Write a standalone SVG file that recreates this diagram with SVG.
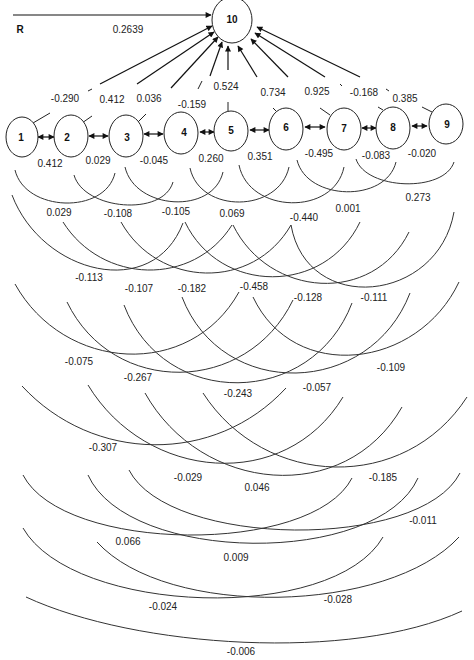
<svg xmlns="http://www.w3.org/2000/svg" width="474" height="660" viewBox="0 0 474 660">
<defs>
<marker id="ah" viewBox="0 0 10 10" refX="9" refY="5" markerWidth="7" markerHeight="6" markerUnits="userSpaceOnUse" orient="auto-start-reverse">
<path d="M0,0 L10,5 L0,10 z" fill="#111"/>
</marker>
<style>
.n{fill:#fff;stroke:#222;stroke-width:1}
.nl{font-family:"Liberation Sans",Arial,sans-serif;font-size:10px;font-weight:bold;fill:#111;text-anchor:middle}
.t{font-family:"Liberation Sans",Arial,sans-serif;font-size:10px;fill:#222;text-anchor:middle}
.l{fill:none;stroke:#222;stroke-width:1}
.a{fill:none;stroke:#333;stroke-width:1}
.ar{fill:none;stroke:#111;stroke-width:1.2;marker-end:url(#ah)}
.da{fill:none;stroke:#111;stroke-width:1.2;marker-start:url(#ah);marker-end:url(#ah)}
</style>
</defs>
<rect width="474" height="660" fill="#fff"/>

<g id="connectors">
<!-- R arrow -->
<line class="ar" x1="13" y1="15" x2="211" y2="15"/>
<!-- paths to node 10 -->
<line class="l" x1="33" y1="123" x2="50" y2="113"/>
<line class="l" x1="88" y1="91" x2="92" y2="89"/>
<line class="ar" x1="100" y1="84" x2="212" y2="26"/>
<line class="l" x1="82" y1="123" x2="92" y2="116"/>
<line class="ar" x1="137" y1="84" x2="214" y2="32"/>
<line class="l" x1="138" y1="122" x2="146" y2="114"/>
<line class="ar" x1="171" y1="88" x2="218" y2="37"/>
<line class="l" x1="198" y1="89" x2="202" y2="81"/>
<line class="ar" x1="210" y1="76" x2="222" y2="42"/>
<line class="l" x1="228" y1="102" x2="228" y2="112"/>
<line class="ar" x1="228" y1="70" x2="228" y2="46"/>
<line class="l" x1="273" y1="108" x2="277" y2="112"/>
<line class="ar" x1="257" y1="77" x2="238" y2="46"/>
<line class="l" x1="320" y1="108" x2="330" y2="115"/>
<line class="ar" x1="288" y1="77" x2="251" y2="39"/>
<line class="l" x1="340" y1="84" x2="342" y2="86"/>
<line class="l" x1="378" y1="107" x2="383" y2="110"/>
<line class="ar" x1="325" y1="77" x2="255" y2="33"/>
<line class="l" x1="386" y1="89" x2="389" y2="91"/>
<line class="l" x1="422" y1="107" x2="432" y2="112"/>
<line class="ar" x1="360" y1="77" x2="257" y2="27"/>
<!-- double arrows between neighbours -->
<line class="da" x1="38" y1="137" x2="54" y2="137"/>
<line class="da" x1="89" y1="136" x2="108" y2="136"/>
<line class="da" x1="144" y1="134" x2="163" y2="134"/>
<line class="da" x1="200" y1="132" x2="214" y2="132"/>
<line class="da" x1="250" y1="130" x2="269" y2="130"/>
<line class="da" x1="305" y1="127" x2="325" y2="127"/>
<line class="da" x1="362" y1="128" x2="376" y2="128"/>
<line class="da" x1="412" y1="126" x2="427" y2="126"/>
<!-- lag 2 arcs -->
<path class="a" d="M15,170 C25,212 105,215 115,173"/>
<path class="a" d="M74,175 C84,210 163,217 173,182"/>
<path class="a" d="M125,167 C135,210 213,215 223,172"/>
<path class="a" d="M190,168 C200,214 279,213 289,167"/>
<path class="a" d="M239,165 C249,214 334,216 344,167"/>
<path class="a" d="M297,160 C307,201 386,203 396,162"/>
<path class="a" d="M356,159 C366,190 444,193 454,162"/>
<!-- lag 3 arcs -->
<path class="a" d="M12,195 C42,274 153,302 183,223"/>
<path class="a" d="M63,222 C102,284 193,287 232,225"/>
<path class="a" d="M121,222 C158,288 253,291 291,225"/>
<path class="a" d="M185,222 C220,295 325,295 360,222"/>
<path class="a" d="M233,225 C269,298 373,305 409,232"/>
<path class="a" d="M291,225 C307,316 438,303 454,212"/>
<!-- lag 4 arcs -->
<path class="a" d="M15,284 C64,372 190,380 239,292"/>
<path class="a" d="M67,302 C113,397 247,395 293,300"/>
<path class="a" d="M124,305 C164,410 312,408 352,303"/>
<path class="a" d="M182,297 C222,401 370,397 410,293"/>
<path class="a" d="M253,297 C294,384 418,369 459,282"/>
<!-- lag 5 arcs -->
<path class="a" d="M22,386 C93,463 215,465 286,388"/>
<path class="a" d="M88,385 C146,481 285,493 343,397"/>
<path class="a" d="M145,393 C201,493 345,507 402,407"/>
<path class="a" d="M203,393 C265,489 405,493 467,397"/>
<!-- lag 6 arcs -->
<path class="a" d="M23,475 C63,553 312,556 352,478"/>
<path class="a" d="M88,475 C128,564 378,567 418,478"/>
<path class="a" d="M129,470 C169,548 420,551 460,473"/>
<!-- lag 7 arcs -->
<path class="a" d="M23,528 C73,615 333,624 383,537"/>
<path class="a" d="M97,542 C167,619 389,614 459,537"/>
<!-- lag 8 arc -->
<path class="a" d="M26,597 C136,648 352,662 462,611"/>
</g>

<g id="node10"><ellipse class="n" cx="232" cy="20" rx="20" ry="23"/><text class="nl" x="232" y="23">10</text></g>
<g id="node1"><ellipse class="n" cx="22" cy="137" rx="16" ry="20"/><text class="nl" x="21" y="141">1</text></g>
<g id="node2"><ellipse class="n" cx="71" cy="136" rx="17" ry="21"/><text class="nl" x="67" y="141">2</text></g>
<g id="node3"><ellipse class="n" cx="126" cy="136" rx="17" ry="21"/><text class="nl" x="127" y="141">3</text></g>
<g id="node4"><ellipse class="n" cx="181" cy="133" rx="17" ry="21"/><text class="nl" x="184" y="136">4</text></g>
<g id="node5"><ellipse class="n" cx="231" cy="131" rx="17" ry="20"/><text class="nl" x="231" y="134">5</text></g>
<g id="node6"><ellipse class="n" cx="286" cy="129" rx="17" ry="21"/><text class="nl" x="286" y="131">6</text></g>
<g id="node7"><ellipse class="n" cx="344" cy="129" rx="17" ry="21"/><text class="nl" x="344" y="132">7</text></g>
<g id="node8"><ellipse class="n" cx="393" cy="128" rx="17" ry="21"/><text class="nl" x="393" y="131">8</text></g>
<g id="node9"><ellipse class="n" cx="446" cy="124" rx="17" ry="20"/><text class="nl" x="447" y="128">9</text></g>

<g id="labels">
<text class="nl" x="20" y="33">R</text>
<text class="t" x="128" y="33">0.2639</text>
<text class="t" x="65" y="102">-0.290</text>
<text class="t" x="112" y="103">0.412</text>
<text class="t" x="149" y="102">0.036</text>
<text class="t" x="192" y="108">-0.159</text>
<text class="t" x="226" y="90">0.524</text>
<text class="t" x="273" y="96">0.734</text>
<text class="t" x="317" y="95">0.925</text>
<text class="t" x="364" y="96">-0.168</text>
<text class="t" x="405" y="102">0.385</text>
<text class="t" x="50" y="167">0.412</text>
<text class="t" x="98" y="164">0.029</text>
<text class="t" x="154" y="164">-0.045</text>
<text class="t" x="211" y="162">0.260</text>
<text class="t" x="260" y="160">0.351</text>
<text class="t" x="319" y="157">-0.495</text>
<text class="t" x="376" y="159">-0.083</text>
<text class="t" x="422" y="157">-0.020</text>
<text class="t" x="59" y="216">0.029</text>
<text class="t" x="118" y="217">-0.108</text>
<text class="t" x="176" y="215">-0.105</text>
<text class="t" x="232" y="217">0.069</text>
<text class="t" x="304" y="221">-0.440</text>
<text class="t" x="348" y="212">0.001</text>
<text class="t" x="418" y="201">0.273</text>
<text class="t" x="89" y="281">-0.113</text>
<text class="t" x="139" y="292">-0.107</text>
<text class="t" x="192" y="292">-0.182</text>
<text class="t" x="254" y="290">-0.458</text>
<text class="t" x="308" y="301">-0.128</text>
<text class="t" x="374" y="301">-0.111</text>
<text class="t" x="79" y="365">-0.075</text>
<text class="t" x="138" y="381">-0.267</text>
<text class="t" x="238" y="397">-0.243</text>
<text class="t" x="317" y="391">-0.057</text>
<text class="t" x="391" y="371">-0.109</text>
<text class="t" x="103" y="451">-0.307</text>
<text class="t" x="188" y="481">-0.029</text>
<text class="t" x="257" y="491">0.046</text>
<text class="t" x="383" y="481">-0.185</text>
<text class="t" x="128" y="545">0.066</text>
<text class="t" x="236" y="561">0.009</text>
<text class="t" x="423" y="524">-0.011</text>
<text class="t" x="163" y="610">-0.024</text>
<text class="t" x="338" y="603">-0.028</text>
<text class="t" x="241" y="655">-0.006</text>
</g>
</svg>
